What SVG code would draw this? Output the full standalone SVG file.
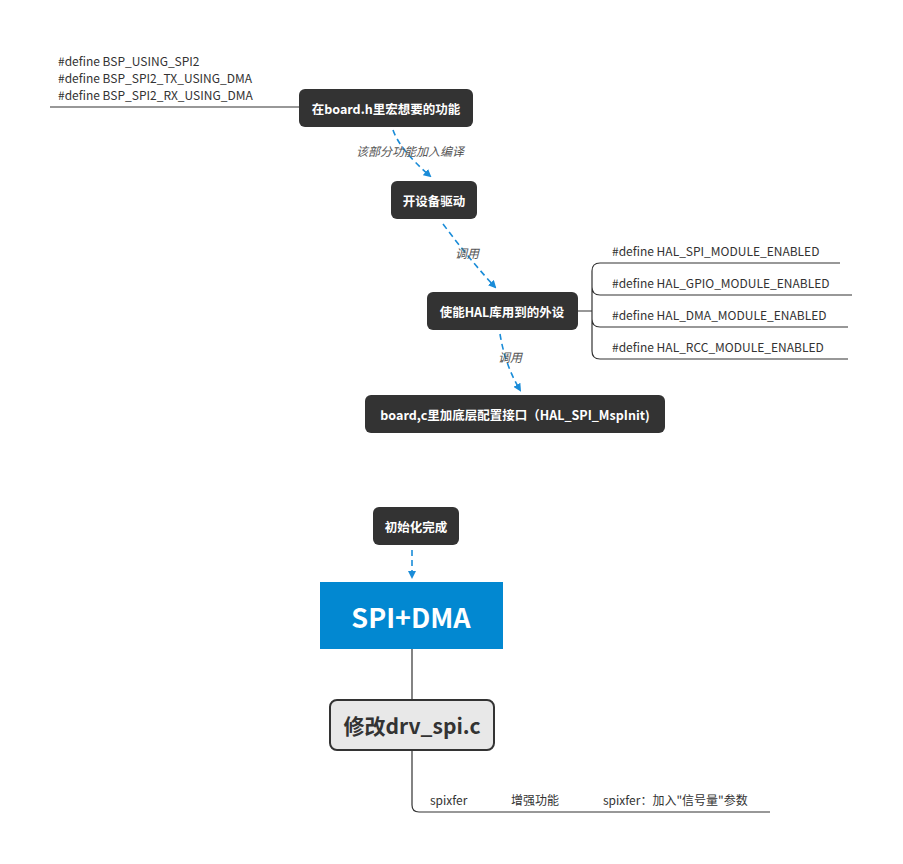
<svg xmlns="http://www.w3.org/2000/svg" width="903" height="864" viewBox="0 0 903 864">
<style>
text{font-family:"Noto Sans CJK SC","Noto Sans",sans-serif}
.dark{fill:#333;rx:6px}
.nt{fill:#fff;font-size:12.5px;font-weight:bold;text-anchor:middle;dominant-baseline:central}
.lt{fill:#333;font-size:12px}
.ln{fill:none;stroke:#333;stroke-width:1.2}
.da{fill:none;stroke:#1a8cd8;stroke-width:1.6;stroke-dasharray:6,4;marker-end:url(#ah)}
.lab{fill:#555;font-size:12px;font-style:italic;text-anchor:middle}
</style>
<defs><marker id="ah" markerWidth="8" markerHeight="8" refX="6" refY="4" orient="auto" markerUnits="userSpaceOnUse"><path d="M0,0L8,4L0,8z" fill="#1a8cd8"/></marker></defs>
<rect width="903" height="864" fill="#fff"/>
<g id="connectors">
<path class="ln" d="M50,107H299"/>
<path class="ln" d="M578,311H592M592,271Q592,263 600,263H840M592,287Q592,295 600,295H852M592,303V319Q592,327 600,327H848M592,303V351Q592,359 600,359H848M592,271V303"/>
<path class="ln" d="M412,649V700M412,750V805Q412,812 419,812H770"/>
<path class="da" d="M393,130Q400,150 430,176"/>
<path class="da" d="M443,224Q470,260 495,287"/>
<path class="da" d="M500,334Q505,365 520,390"/>
<path class="da" d="M412,550V577"/>
<text class="lab" x="410" y="156">该部分功能加入编译</text>
<text class="lab" x="467" y="258">调用</text>
<text class="lab" x="510" y="362">调用</text>
</g>
<g id="defs-left"><text class="lt" x="58" y="66">#define BSP_USING_SPI2</text><text class="lt" x="58" y="83">#define BSP_SPI2_TX_USING_DMA</text><text class="lt" x="58" y="100">#define BSP_SPI2_RX_USING_DMA</text></g>
<g id="n1"><rect class="dark" x="299" y="89" width="174" height="38" rx="6"/><text class="nt" x="386" y="108">在board.h里宏想要的功能</text></g>
<g id="n2"><rect class="dark" x="391" y="181" width="86" height="38" rx="6"/><text class="nt" x="434" y="200">开设备驱动</text></g>
<g id="n3"><rect class="dark" x="427" y="292" width="151" height="38" rx="6"/><text class="nt" x="502" y="311">使能HAL库用到的外设</text></g>
<g id="hal"><text class="lt" x="612" y="256">#define HAL_SPI_MODULE_ENABLED</text><text class="lt" x="612" y="288">#define HAL_GPIO_MODULE_ENABLED</text><text class="lt" x="612" y="320">#define HAL_DMA_MODULE_ENABLED</text><text class="lt" x="612" y="352">#define HAL_RCC_MODULE_ENABLED</text></g>
<g id="n4"><rect class="dark" x="365" y="395" width="300" height="38" rx="6"/><text class="nt" x="515" y="414">board,c里加底层配置接口（HAL_SPI_MspInit)</text></g>
<g id="n5"><rect class="dark" x="373" y="507" width="86" height="38" rx="6"/><text class="nt" x="416" y="526">初始化完成</text></g>
<g id="n6"><rect x="320" y="582" width="183" height="67" fill="#0288d1"/><text x="411" y="616" fill="#fff" font-size="27" font-weight="bold" text-anchor="middle" dominant-baseline="central">SPI+DMA</text></g>
<g id="n7"><rect x="330" y="700" width="164" height="50" rx="7" fill="#e8e8e8" stroke="#333" stroke-width="2"/><text x="412" y="725" fill="#333" font-size="21" font-weight="bold" text-anchor="middle" dominant-baseline="central">修改drv_spi.c</text></g>
<g id="bottom"><text class="lt" x="430" y="805">spixfer</text><text class="lt" x="511" y="805">增强功能</text><text class="lt" x="603" y="805">spixfer：加入"信号量"参数</text></g>
</svg>
